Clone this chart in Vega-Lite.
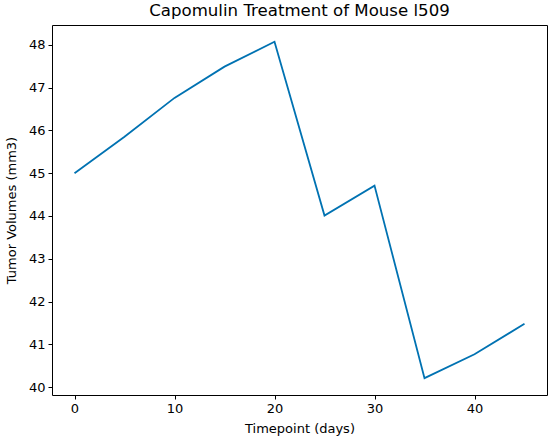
{
  "$schema": "https://vega.github.io/schema/vega-lite/v6.json",
  "autosize": "none",
  "width": 495,
  "height": 370,
  "padding": {"left": 52, "top": 25, "right": 9, "bottom": 49},
  "background": "white",
  "title": {
    "text": "Capomulin Treatment of Mouse l509",
    "font": "DejaVu Sans",
    "fontSize": 16.6,
    "fontWeight": "normal",
    "color": "black",
    "offset": 5
  },
  "data": {
    "values": [
      {"timepoint": 0, "volume": 45.0},
      {"timepoint": 5, "volume": 45.85},
      {"timepoint": 10, "volume": 46.76},
      {"timepoint": 15, "volume": 47.49},
      {"timepoint": 20, "volume": 48.07},
      {"timepoint": 25, "volume": 44.01},
      {"timepoint": 30, "volume": 44.71},
      {"timepoint": 35, "volume": 40.21},
      {"timepoint": 40, "volume": 40.77},
      {"timepoint": 45, "volume": 41.48}
    ]
  },
  "mark": {"type": "line", "color": "#0072b2", "strokeWidth": 1.8},
  "encoding": {
    "x": {
      "field": "timepoint",
      "type": "quantitative",
      "title": "Timepoint (days)",
      "scale": {"domain": [-2.25, 47.25], "nice": false, "zero": false},
      "axis": {"values": [0, 10, 20, 30, 40]}
    },
    "y": {
      "field": "volume",
      "type": "quantitative",
      "title": "Tumor Volumes (mm3)",
      "scale": {"domain": [39.817, 48.463], "nice": false, "zero": false},
      "axis": {"values": [40, 41, 42, 43, 44, 45, 46, 47, 48]}
    }
  },
  "config": {
    "view": {"stroke": "black", "strokeWidth": 1},
    "axis": {
      "grid": false,
      "domain": false,
      "tickColor": "black",
      "tickSize": 4,
      "tickWidth": 1,
      "labelFont": "DejaVu Sans",
      "labelFontSize": 13,
      "labelColor": "black",
      "labelPadding": 3,
      "titleFont": "DejaVu Sans",
      "titleFontSize": 13,
      "titleFontWeight": "normal",
      "titleColor": "black"
    },
    "axisX": {"titlePadding": 7},
    "axisY": {"titlePadding": 10}
  }
}
